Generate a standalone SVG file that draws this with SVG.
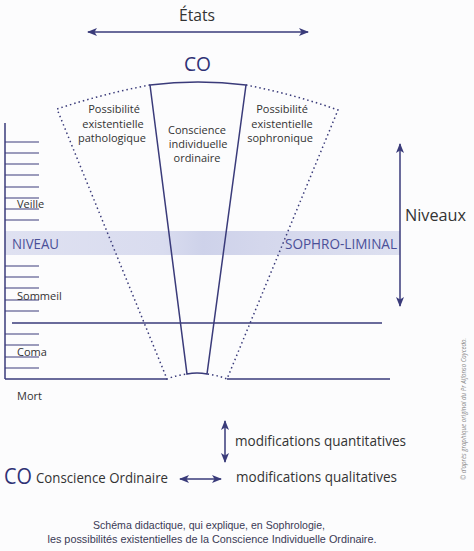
<svg xmlns="http://www.w3.org/2000/svg" width="474" height="551" viewBox="0 0 474 551">
<defs>
<marker id="ah" viewBox="0 0 10 8" refX="9" refY="4" markerWidth="10" markerHeight="8" markerUnits="userSpaceOnUse" orient="auto-start-reverse">
<path d="M0,0 L10,4 L0,8 L2.5,4 Z" fill="#3a3b7a"/>
</marker>
<linearGradient id="band" x1="0" y1="0" x2="1" y2="0">
<stop offset="0" stop-color="#dfe1f1"/>
<stop offset="0.4" stop-color="#d9dcef"/>
<stop offset="0.5" stop-color="#ced2ea"/>
<stop offset="0.65" stop-color="#d4d7ec"/>
<stop offset="1" stop-color="#dde0f0"/>
</linearGradient>
</defs>
<style>
.ln{stroke:#3a3b7a;stroke-width:1.5;fill:none}
.dot{stroke:#3a3b7a;stroke-width:1.5;fill:none;stroke-dasharray:1.5 3}
.tick{stroke:#3a3b7a;stroke-width:1}
.arr{stroke:#3a3b7a;stroke-width:1.5;fill:none;marker-start:url(#ah);marker-end:url(#ah)}
text{font-family:"Open Sans","Liberation Sans",sans-serif;fill:#333;}
.lab{font-size:11px;text-anchor:middle}
.sc{font-size:11px}
.blue{fill:#4a4f98;font-size:14px}
.big{font-size:16px}
.co{fill:#2f3175}
.cap{font-family:"Liberation Sans",sans-serif;font-size:11px;text-anchor:middle;fill:#3a3a55}
</style>
<rect width="474" height="551" fill="#fcfcfd"/>

<g id="band-niveau">
<rect x="5" y="231" width="395" height="24" fill="url(#band)"/>
<text class="blue" x="12" y="249" textLength="47" lengthAdjust="spacingAndGlyphs">NIVEAU</text>
<text class="blue" x="285" y="249" textLength="112" lengthAdjust="spacingAndGlyphs">SOPHRO-LIMINAL</text>
</g>

<g id="scale">
<line class="ln" x1="5" y1="123" x2="5" y2="379"/>
<g class="tick">
<line x1="5" y1="142" x2="39" y2="142"/>
<line x1="5" y1="153" x2="39" y2="153"/>
<line x1="5" y1="164" x2="39" y2="164"/>
<line x1="5" y1="175" x2="39" y2="175"/>
<line x1="5" y1="187" x2="39" y2="187"/>
<line x1="5" y1="198" x2="39" y2="198"/>
<line x1="5" y1="209" x2="39" y2="209"/>
<line x1="5" y1="220" x2="39" y2="220"/>
<line x1="5" y1="266" x2="39" y2="266"/>
<line x1="5" y1="277" x2="39" y2="277"/>
<line x1="5" y1="288" x2="39" y2="288"/>
<line x1="5" y1="300" x2="39" y2="300"/>
<line x1="5" y1="311" x2="39" y2="311"/>
<line x1="5" y1="334" x2="39" y2="334"/>
<line x1="5" y1="345" x2="39" y2="345"/>
<line x1="5" y1="357" x2="39" y2="357"/>
<line x1="5" y1="368" x2="39" y2="368"/>
</g>
<line class="ln" x1="12" y1="323" x2="382" y2="323"/>
<line class="ln" x1="5" y1="379" x2="167" y2="379"/>
<line class="ln" x1="227" y1="379" x2="390" y2="379"/>
<text class="sc" x="17" y="208">Veille</text>
<text class="sc" x="17" y="300">Sommeil</text>
<text class="sc" x="17" y="356">Coma</text>
<text class="sc" x="17" y="400">Mort</text>
</g>

<g id="cone-center">
<path class="ln" d="M150,85 Q198,79 246,85 L207,374 Q197,372 187,374 Z"/>
<text class="lab" x="197" y="134">Conscience</text>
<text class="lab" x="198" y="148">individuelle</text>
<text class="lab" x="197" y="162">ordinaire</text>
</g>

<g id="cone-left">
<path class="dot" d="M150,85 Q102,94 57,109 L167,379 Q177,375 187,374"/>
<text class="lab" x="114" y="113">Possibilité</text>
<text class="lab" x="113" y="128">existentielle</text>
<text class="lab" x="112" y="142">pathologique</text>
</g>

<g id="cone-right">
<path class="dot" d="M246,85 Q293,94 338,110 L227,379 Q217,375 207,374"/>
<text class="lab" x="282" y="113">Possibilité</text>
<text class="lab" x="282" y="128">existentielle</text>
<text class="lab" x="280" y="142">sophronique</text>
</g>

<g id="header">
<text x="179" y="21" font-size="17" textLength="36" lengthAdjust="spacingAndGlyphs">États</text>
<text class="co" x="184" y="71" font-size="20" textLength="27" lengthAdjust="spacingAndGlyphs">CO</text>
</g>

<g id="niveaux">
<text class="big" x="405" y="221" textLength="61" lengthAdjust="spacingAndGlyphs">Niveaux</text>
</g>

<g id="connectors">
<line class="arr" x1="88" y1="32" x2="308" y2="32"/>
<line class="arr" x1="400" y1="144" x2="400" y2="306"/>
<line class="arr" x1="225" y1="421" x2="225" y2="462"/>
<line class="arr" x1="180" y1="479" x2="221" y2="479"/>
</g>

<g id="legend">
<text x="235" y="446" font-size="14.5" textLength="171" lengthAdjust="spacingAndGlyphs">modifications quantitatives</text>
<text class="co" x="4" y="484" font-size="22" textLength="28" lengthAdjust="spacingAndGlyphs">CO</text>
<text x="36" y="483" font-size="14" textLength="132" lengthAdjust="spacingAndGlyphs">Conscience Ordinaire</text>
<text x="236" y="482" font-size="14.5" textLength="161" lengthAdjust="spacingAndGlyphs">modifications qualitatives</text>
</g>

<g id="caption">
<text class="cap" x="209" y="529" textLength="232" lengthAdjust="spacingAndGlyphs">Schéma didactique, qui explique, en Sophrologie,</text>
<text class="cap" x="212" y="543" textLength="329" lengthAdjust="spacingAndGlyphs">les possibilités existentielles de la Conscience Individuelle Ordinaire.</text>
</g>

<g id="copyright">
<text transform="translate(466,480) rotate(-90)" font-size="6.5" font-style="italic" fill="#888" style="fill:#888" textLength="142" lengthAdjust="spacingAndGlyphs">© d'après graphique original du Pr Alfonso Caycedo.</text>
</g>
</svg>
